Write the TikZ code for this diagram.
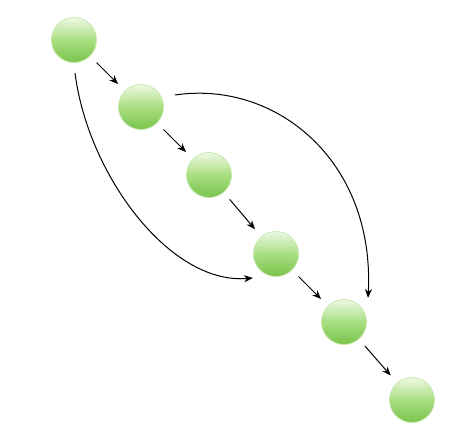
\documentclass[tikz,border=0pt]{standalone}
\usetikzlibrary{arrows.meta,calc}
\definecolor{gtop}{HTML}{EEF9E4}
\definecolor{gmid}{HTML}{A8DE80}
\definecolor{gbot}{HTML}{7AC44C}
\definecolor{gedge}{HTML}{C6E8AC}
\tikzset{
  ball/.style={circle, minimum size=45pt, inner sep=0pt, draw=gedge, line width=0.8pt,
    top color=gtop, bottom color=gbot, middle color=gmid},
  link/.style={-{Stealth[length=9pt,width=7pt]}, line width=1pt, black},
  seq/.style={link, shorten <=9pt, shorten >=9.5pt}
}
\begin{document}
\begin{tikzpicture}[x=1pt,y=-1pt]
\useasboundingbox (0,0) rectangle (474,437);
\node[ball] (n1) at (74,40) {};
\node[ball] (n2) at (141,107) {};
\node[ball] (n3) at (209,175) {};
\node[ball] (n4) at (276,254) {};
\node[ball] (n5) at (344,322) {};
\node[ball] (n6) at (412,400) {};
\draw[seq] (n1) -- (n2);
\draw[seq] (n2) -- (n3);
\draw[seq] (n3) -- (n4);
\draw[seq] (n4) -- (n5);
\draw[seq] (n5) -- (n6);
\draw[link] ($(n1)+(1,33)$) .. controls (88,175) and (170,285) .. ($(n4)+(-23,24)$);
\draw[link] ($(n2)+(34,-12)$) .. controls (275,80) and (375,160) .. ($(n5)+(24,-24)$);
\end{tikzpicture}
\end{document}
